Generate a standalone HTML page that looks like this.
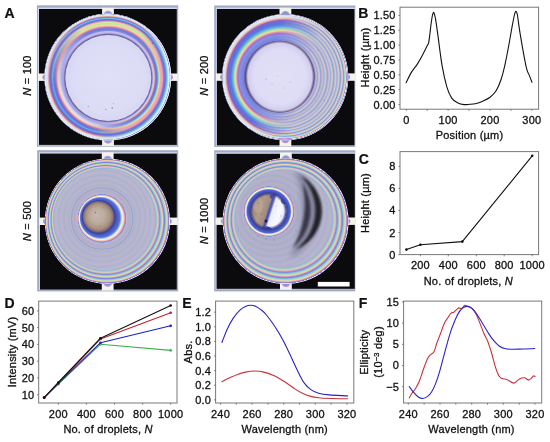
<!DOCTYPE html>
<html><head><meta charset="utf-8"><title>Figure</title>
<style>
html,body{margin:0;padding:0;background:#fff;}
body{width:550px;height:442px;overflow:hidden;}
svg{display:block;}
text{font-family:"Liberation Sans",sans-serif;fill:#111;stroke:#111;stroke-width:0.3px;letter-spacing:0.2px;}
.t{font-size:11px;}
.lab{font-size:11px;}
.pl{font-size:14px;font-weight:bold;stroke-width:0.2px;letter-spacing:0;}
.ax{fill:none;stroke:#787878;stroke-width:1;}
.tk{stroke:#666;stroke-width:0.8;fill:none;}
.ln{fill:none;stroke-width:1.1;stroke-linejoin:round;stroke-linecap:round;}
</style></head><body>
<svg width="550" height="442" viewBox="0 0 550 442">
<defs>
<radialGradient id="dome"><stop offset="0" stop-color="#6a8ae4"/><stop offset="0.55" stop-color="#7a9aea"/><stop offset="0.75" stop-color="#b79ad8"/><stop offset="0.9" stop-color="#f0c8b8"/><stop offset="1" stop-color="#f4f2ea"/></radialGradient>
<radialGradient id="g1L" gradientUnits="userSpaceOnUse" cx="107.7" cy="77.2" r="63.4" fx="108.3" fy="77.9" fr="43.3"><stop offset="0.0000" stop-color="#665c80"/><stop offset="0.0300" stop-color="#8078b0"/><stop offset="0.0700" stop-color="#9c9ce0"/><stop offset="0.1600" stop-color="#a8a8ec"/><stop offset="0.2200" stop-color="#d4d0f2"/><stop offset="0.2900" stop-color="#e4def4"/><stop offset="0.3300" stop-color="#f0e0b0"/><stop offset="0.3800" stop-color="#f0b09c"/><stop offset="0.4300" stop-color="#b070c4"/><stop offset="0.4800" stop-color="#8868cc"/><stop offset="0.5400" stop-color="#5c78e0"/><stop offset="0.6000" stop-color="#62b4dc"/><stop offset="0.6400" stop-color="#5c90e0"/><stop offset="0.6900" stop-color="#6070dc"/><stop offset="0.7300" stop-color="#9060c4"/><stop offset="0.7800" stop-color="#d888b0"/><stop offset="0.8200" stop-color="#f0c0a0"/><stop offset="0.8600" stop-color="#e8e4e8"/><stop offset="0.9000" stop-color="#d8e6f8"/><stop offset="0.9400" stop-color="#d4e2f8"/><stop offset="0.9650" stop-color="#eef2fc"/><stop offset="0.9820" stop-color="#8a94cc"/><stop offset="1.0000" stop-color="#e8ecf6"/></radialGradient>
<radialGradient id="g1T" gradientUnits="userSpaceOnUse" cx="107.7" cy="77.2" r="63.4" fx="108.3" fy="77.9" fr="43.3"><stop offset="0.0000" stop-color="#66629c"/><stop offset="0.0350" stop-color="#807ec8"/><stop offset="0.0800" stop-color="#c0b8e4"/><stop offset="0.1500" stop-color="#c8b8e6"/><stop offset="0.2000" stop-color="#7c88e4"/><stop offset="0.2800" stop-color="#6c7ce0"/><stop offset="0.3300" stop-color="#a070c8"/><stop offset="0.4000" stop-color="#f0a4a0"/><stop offset="0.4500" stop-color="#f0e0a0"/><stop offset="0.5200" stop-color="#c0e4a0"/><stop offset="0.5900" stop-color="#dce49c"/><stop offset="0.6400" stop-color="#e8a0b0"/><stop offset="0.6800" stop-color="#a070c8"/><stop offset="0.7300" stop-color="#5c74e0"/><stop offset="0.7800" stop-color="#6cc8e0"/><stop offset="0.8200" stop-color="#7088e0"/><stop offset="0.8500" stop-color="#a870c8"/><stop offset="0.8800" stop-color="#f0b0a0"/><stop offset="0.9100" stop-color="#e8dce8"/><stop offset="0.9400" stop-color="#d4e2f8"/><stop offset="0.9650" stop-color="#eef2fc"/><stop offset="0.9820" stop-color="#8a94cc"/><stop offset="1.0000" stop-color="#e8ecf6"/></radialGradient>
<linearGradient id="m1g" gradientUnits="userSpaceOnUse" x1="66" y1="100" x2="110" y2="66"><stop offset="0" stop-color="#000"/><stop offset="1" stop-color="#fff"/></linearGradient>
<mask id="m1" maskUnits="userSpaceOnUse" x="37" y="6" width="142" height="142"><rect x="37" y="6" width="142" height="142" fill="url(#m1g)"/></mask>
<radialGradient id="g1R" gradientUnits="userSpaceOnUse" cx="107.7" cy="77.2" r="63.4" fx="108.3" fy="77.9" fr="43.3"><stop offset="0.0000" stop-color="#6a68b0"/><stop offset="0.0400" stop-color="#8a88d8"/><stop offset="0.0800" stop-color="#d0c8ec"/><stop offset="0.1400" stop-color="#f0c0a0"/><stop offset="0.1900" stop-color="#a070c8"/><stop offset="0.2700" stop-color="#6078e0"/><stop offset="0.3500" stop-color="#80d0c8"/><stop offset="0.3900" stop-color="#e8e4a0"/><stop offset="0.4500" stop-color="#f0b0a8"/><stop offset="0.5600" stop-color="#eca0b0"/><stop offset="0.6200" stop-color="#a070c8"/><stop offset="0.7000" stop-color="#5c74e0"/><stop offset="0.7900" stop-color="#6cc8e0"/><stop offset="0.8600" stop-color="#d8e8f4"/><stop offset="0.9100" stop-color="#e8eefa"/><stop offset="0.9450" stop-color="#8a94cc"/><stop offset="0.9750" stop-color="#e8ecf6"/><stop offset="1.0000" stop-color="#e8ecf6"/></radialGradient>
<linearGradient id="m1rg" gradientUnits="userSpaceOnUse" x1="128" y1="60" x2="158" y2="74"><stop offset="0" stop-color="#000"/><stop offset="1" stop-color="#fff"/></linearGradient>
<mask id="m1r" maskUnits="userSpaceOnUse" x="37" y="6" width="142" height="142"><rect x="37" y="6" width="142" height="142" fill="url(#m1rg)"/></mask>
<radialGradient id="g1i" gradientUnits="userSpaceOnUse" cx="108.3" cy="77.9" r="43.5"><stop offset="0.0000" stop-color="#e0e0f8"/><stop offset="0.8000" stop-color="#dcdcf6"/><stop offset="1.0000" stop-color="#d6d6f2"/></radialGradient>
<radialGradient id="g2L" gradientUnits="userSpaceOnUse" cx="285.1" cy="77.1" r="63.1" fx="279.6" fy="76.8" fr="34.2"><stop offset="0.0000" stop-color="#5c4c70"/><stop offset="0.0350" stop-color="#6a60a8"/><stop offset="0.0800" stop-color="#7482e0"/><stop offset="0.2600" stop-color="#8292e6"/><stop offset="0.3200" stop-color="#9a70c8"/><stop offset="0.3700" stop-color="#e890b0"/><stop offset="0.4200" stop-color="#f0dca0"/><stop offset="0.4800" stop-color="#a0dcb0"/><stop offset="0.5400" stop-color="#62b4dc"/><stop offset="0.6200" stop-color="#5c78e0"/><stop offset="0.7000" stop-color="#6070dc"/><stop offset="0.7800" stop-color="#9060c4"/><stop offset="0.8400" stop-color="#f0b8a0"/><stop offset="0.8900" stop-color="#e8e4e8"/><stop offset="0.9300" stop-color="#d8e6f8"/><stop offset="0.9450" stop-color="#d4e2f8"/><stop offset="0.9700" stop-color="#eef2fc"/><stop offset="0.9850" stop-color="#8a94cc"/><stop offset="1.0000" stop-color="#e8ecf6"/></radialGradient>
<radialGradient id="g2R" gradientUnits="userSpaceOnUse" cx="285.1" cy="77.1" r="63.1" fx="279.6" fy="76.8" fr="34.2"><stop offset="0.0000" stop-color="#5a4a6a"/><stop offset="0.0200" stop-color="#6a68b8"/><stop offset="0.0500" stop-color="#a0a0e0"/><stop offset="0.0700" stop-color="#c4bec2"/><stop offset="0.0759" stop-color="#c5b7c2"/><stop offset="0.0817" stop-color="#c6b1c3"/><stop offset="0.0876" stop-color="#c1abc8"/><stop offset="0.0935" stop-color="#baa4ce"/><stop offset="0.0993" stop-color="#b1a2d4"/><stop offset="0.1052" stop-color="#a9a3d8"/><stop offset="0.1111" stop-color="#a0a4dc"/><stop offset="0.1169" stop-color="#a1addd"/><stop offset="0.1228" stop-color="#a4b7de"/><stop offset="0.1287" stop-color="#a7c0df"/><stop offset="0.1345" stop-color="#aec4da"/><stop offset="0.1404" stop-color="#b5c8d5"/><stop offset="0.1463" stop-color="#bcccd1"/><stop offset="0.1521" stop-color="#c4ccd1"/><stop offset="0.1580" stop-color="#cacbcf"/><stop offset="0.1639" stop-color="#cfcace"/><stop offset="0.1697" stop-color="#cfc2cc"/><stop offset="0.1756" stop-color="#cebaca"/><stop offset="0.1815" stop-color="#c7b1cc"/><stop offset="0.1873" stop-color="#bea8d1"/><stop offset="0.1932" stop-color="#b3a2d5"/><stop offset="0.1991" stop-color="#a8a1d7"/><stop offset="0.2049" stop-color="#9da0d9"/><stop offset="0.2108" stop-color="#9ba6d8"/><stop offset="0.2167" stop-color="#9badd7"/><stop offset="0.2225" stop-color="#9cb4d6"/><stop offset="0.2284" stop-color="#a0b6d0"/><stop offset="0.2343" stop-color="#a6baca"/><stop offset="0.2401" stop-color="#adbec5"/><stop offset="0.2460" stop-color="#b6bfc6"/><stop offset="0.2519" stop-color="#bec0c6"/><stop offset="0.2577" stop-color="#c6c2c7"/><stop offset="0.2636" stop-color="#c9bdc7"/><stop offset="0.2695" stop-color="#cab7c8"/><stop offset="0.2753" stop-color="#c7b1cb"/><stop offset="0.2812" stop-color="#c0abd1"/><stop offset="0.2871" stop-color="#b8a6d7"/><stop offset="0.2929" stop-color="#b0a8db"/><stop offset="0.2988" stop-color="#a7a9df"/><stop offset="0.3047" stop-color="#a6b0e2"/><stop offset="0.3105" stop-color="#a8b9e3"/><stop offset="0.3164" stop-color="#abc3e4"/><stop offset="0.3223" stop-color="#b0c8df"/><stop offset="0.3281" stop-color="#b5c9d8"/><stop offset="0.3340" stop-color="#bacbd2"/><stop offset="0.3399" stop-color="#c0cacf"/><stop offset="0.3457" stop-color="#c6c9ce"/><stop offset="0.3516" stop-color="#ccc8cd"/><stop offset="0.3575" stop-color="#cec3cb"/><stop offset="0.3633" stop-color="#cdbaca"/><stop offset="0.3692" stop-color="#c8b2ca"/><stop offset="0.3751" stop-color="#bfa9cf"/><stop offset="0.3809" stop-color="#b5a1d3"/><stop offset="0.3868" stop-color="#aaa1d5"/><stop offset="0.3927" stop-color="#9fa0d7"/><stop offset="0.3985" stop-color="#9aa3d8"/><stop offset="0.4044" stop-color="#9aaad7"/><stop offset="0.4103" stop-color="#9bb2d6"/><stop offset="0.4161" stop-color="#a1b8d4"/><stop offset="0.4220" stop-color="#a8bccf"/><stop offset="0.4279" stop-color="#afc0ca"/><stop offset="0.4337" stop-color="#b7c2c9"/><stop offset="0.4396" stop-color="#bfc4c9"/><stop offset="0.4455" stop-color="#c7c5ca"/><stop offset="0.4513" stop-color="#ccc3ca"/><stop offset="0.4572" stop-color="#cdbdca"/><stop offset="0.4631" stop-color="#cdb7cc"/><stop offset="0.4689" stop-color="#c5b1d3"/><stop offset="0.4748" stop-color="#beaad9"/><stop offset="0.4807" stop-color="#b5acdd"/><stop offset="0.4865" stop-color="#acade1"/><stop offset="0.4924" stop-color="#a8b2e4"/><stop offset="0.4983" stop-color="#abbce5"/><stop offset="0.5041" stop-color="#acc4e5"/><stop offset="0.5100" stop-color="#aec8e1"/><stop offset="0.5159" stop-color="#b3cada"/><stop offset="0.5217" stop-color="#b8ccd3"/><stop offset="0.5276" stop-color="#becccf"/><stop offset="0.5335" stop-color="#c5cbcd"/><stop offset="0.5393" stop-color="#cccbcc"/><stop offset="0.5452" stop-color="#d0c7ca"/><stop offset="0.5511" stop-color="#cfbec8"/><stop offset="0.5569" stop-color="#cdb4c7"/><stop offset="0.5628" stop-color="#c3abcc"/><stop offset="0.5687" stop-color="#b8a1d1"/><stop offset="0.5745" stop-color="#ac9fd4"/><stop offset="0.5804" stop-color="#9f9ed7"/><stop offset="0.5863" stop-color="#969fd9"/><stop offset="0.5921" stop-color="#97a9d9"/><stop offset="0.5980" stop-color="#9ab4da"/><stop offset="0.6039" stop-color="#9ebdd8"/><stop offset="0.6097" stop-color="#a7c2d1"/><stop offset="0.6156" stop-color="#afc6cb"/><stop offset="0.6215" stop-color="#b8c9c7"/><stop offset="0.6273" stop-color="#c2cbc7"/><stop offset="0.6332" stop-color="#ccccc7"/><stop offset="0.6391" stop-color="#d4cbc7"/><stop offset="0.6449" stop-color="#d5c3c7"/><stop offset="0.6508" stop-color="#d7bac7"/><stop offset="0.6567" stop-color="#cdb1ce"/><stop offset="0.6625" stop-color="#c2a7d7"/><stop offset="0.6684" stop-color="#b6a5dc"/><stop offset="0.6743" stop-color="#a9a6e1"/><stop offset="0.6801" stop-color="#9da9e6"/><stop offset="0.6860" stop-color="#9eb3e5"/><stop offset="0.6919" stop-color="#a0bee4"/><stop offset="0.6977" stop-color="#a2c8e2"/><stop offset="0.7036" stop-color="#aacbd8"/><stop offset="0.7095" stop-color="#b2cecf"/><stop offset="0.7153" stop-color="#bad0c8"/><stop offset="0.7212" stop-color="#c4d0c6"/><stop offset="0.7271" stop-color="#cecfc5"/><stop offset="0.7329" stop-color="#d7cec3"/><stop offset="0.7388" stop-color="#d6c2c1"/><stop offset="0.7447" stop-color="#d6b6bf"/><stop offset="0.7505" stop-color="#caa9c5"/><stop offset="0.7564" stop-color="#bc9dcd"/><stop offset="0.7623" stop-color="#ad97d3"/><stop offset="0.7681" stop-color="#9c96d7"/><stop offset="0.7740" stop-color="#8c97dc"/><stop offset="0.7799" stop-color="#8fa5dd"/><stop offset="0.7857" stop-color="#92b3de"/><stop offset="0.7916" stop-color="#96c1dd"/><stop offset="0.7975" stop-color="#a0c7d4"/><stop offset="0.8033" stop-color="#abcccb"/><stop offset="0.8092" stop-color="#b6d1c2"/><stop offset="0.8151" stop-color="#c3d2c2"/><stop offset="0.8209" stop-color="#d0d4c1"/><stop offset="0.8268" stop-color="#ddd5c0"/><stop offset="0.8327" stop-color="#dfc9bf"/><stop offset="0.8385" stop-color="#e0bbbd"/><stop offset="0.8444" stop-color="#d5adc4"/><stop offset="0.8503" stop-color="#c69fcf"/><stop offset="0.8561" stop-color="#b497d8"/><stop offset="0.8620" stop-color="#a097de"/><stop offset="0.8679" stop-color="#8a96e4"/><stop offset="0.8737" stop-color="#89a5e4"/><stop offset="0.8796" stop-color="#8cb6e4"/><stop offset="0.8855" stop-color="#8ec7e3"/><stop offset="0.8913" stop-color="#99cdd6"/><stop offset="0.8972" stop-color="#a6d3c9"/><stop offset="0.9031" stop-color="#b3d9bb"/><stop offset="0.9089" stop-color="#c2d9ba"/><stop offset="0.9148" stop-color="#d2d9b8"/><stop offset="0.9207" stop-color="#e3dab6"/><stop offset="0.9265" stop-color="#e5cbb4"/><stop offset="0.9324" stop-color="#e6b9b1"/><stop offset="0.9383" stop-color="#daa7b7"/><stop offset="0.9441" stop-color="#c594c4"/><stop offset="0.9500" stop-color="#ae87cf"/><stop offset="0.9650" stop-color="#eef2fc"/><stop offset="0.9850" stop-color="#8a94cc"/><stop offset="1.0000" stop-color="#e8ecf6"/></radialGradient>
<linearGradient id="m2g" gradientUnits="userSpaceOnUse" x1="266" y1="70" x2="306" y2="82"><stop offset="0" stop-color="#000"/><stop offset="1" stop-color="#fff"/></linearGradient>
<mask id="m2" maskUnits="userSpaceOnUse" x="214" y="6" width="142" height="142"><rect x="214" y="6" width="142" height="142" fill="url(#m2g)"/></mask>
<radialGradient id="g2i"><stop offset="0" stop-color="#e2e0f6"/><stop offset="0.75" stop-color="#dedcf6"/><stop offset="0.93" stop-color="#d2cfee"/><stop offset="0.975" stop-color="#8c7c9c"/><stop offset="1" stop-color="#5c4c70"/></radialGradient>
<radialGradient id="g3" gradientUnits="userSpaceOnUse" cx="102" cy="218.5" r="72"><stop offset="0.0000" stop-color="#b1b0c6"/><stop offset="0.0059" stop-color="#b1aec6"/><stop offset="0.0118" stop-color="#b1acc6"/><stop offset="0.0176" stop-color="#afabc8"/><stop offset="0.0235" stop-color="#adaac9"/><stop offset="0.0294" stop-color="#abaac9"/><stop offset="0.0353" stop-color="#abacca"/><stop offset="0.0412" stop-color="#abaeca"/><stop offset="0.0471" stop-color="#acafc9"/><stop offset="0.0529" stop-color="#adb0c8"/><stop offset="0.0588" stop-color="#afb0c7"/><stop offset="0.0647" stop-color="#b0b0c7"/><stop offset="0.0706" stop-color="#b2b1c7"/><stop offset="0.0765" stop-color="#b2afc7"/><stop offset="0.0824" stop-color="#b2aec7"/><stop offset="0.0882" stop-color="#b0acc8"/><stop offset="0.0941" stop-color="#aeabc9"/><stop offset="0.1000" stop-color="#acabca"/><stop offset="0.1059" stop-color="#abacca"/><stop offset="0.1118" stop-color="#acaeca"/><stop offset="0.1176" stop-color="#acb0ca"/><stop offset="0.1235" stop-color="#aeb1c9"/><stop offset="0.1294" stop-color="#afb1c7"/><stop offset="0.1353" stop-color="#b1b1c7"/><stop offset="0.1412" stop-color="#b3b1c7"/><stop offset="0.1471" stop-color="#b3b0c7"/><stop offset="0.1529" stop-color="#b3afc7"/><stop offset="0.1588" stop-color="#b1adc8"/><stop offset="0.1647" stop-color="#afacca"/><stop offset="0.1706" stop-color="#adacca"/><stop offset="0.1765" stop-color="#acadcb"/><stop offset="0.1824" stop-color="#acafcb"/><stop offset="0.1882" stop-color="#adb1cb"/><stop offset="0.1941" stop-color="#aeb1c9"/><stop offset="0.2000" stop-color="#b0b2c8"/><stop offset="0.2059" stop-color="#b2b2c8"/><stop offset="0.2118" stop-color="#b3b2c8"/><stop offset="0.2176" stop-color="#b4b1c8"/><stop offset="0.2235" stop-color="#b4b0c8"/><stop offset="0.2294" stop-color="#b3aec9"/><stop offset="0.2353" stop-color="#b1adca"/><stop offset="0.2412" stop-color="#aeadcb"/><stop offset="0.2471" stop-color="#adadcc"/><stop offset="0.2529" stop-color="#adafcc"/><stop offset="0.2588" stop-color="#adb1cc"/><stop offset="0.2647" stop-color="#afb2ca"/><stop offset="0.2706" stop-color="#b1b3c9"/><stop offset="0.2765" stop-color="#b2b3c9"/><stop offset="0.2824" stop-color="#b4b3c9"/><stop offset="0.2882" stop-color="#b5b3c9"/><stop offset="0.2941" stop-color="#b5b1c8"/><stop offset="0.3000" stop-color="#b4afc9"/><stop offset="0.3059" stop-color="#b2adcb"/><stop offset="0.3118" stop-color="#afadcc"/><stop offset="0.3176" stop-color="#adaecc"/><stop offset="0.3235" stop-color="#aeb0cc"/><stop offset="0.3294" stop-color="#aeb2cc"/><stop offset="0.3353" stop-color="#b0b3cb"/><stop offset="0.3412" stop-color="#b1b4ca"/><stop offset="0.3471" stop-color="#b3b4c9"/><stop offset="0.3529" stop-color="#b5b4c9"/><stop offset="0.3588" stop-color="#b6b4c9"/><stop offset="0.3647" stop-color="#b6b2c9"/><stop offset="0.3706" stop-color="#b5b0ca"/><stop offset="0.3765" stop-color="#b3aecb"/><stop offset="0.3824" stop-color="#b0aecc"/><stop offset="0.3882" stop-color="#aeaecd"/><stop offset="0.3941" stop-color="#aeb0cd"/><stop offset="0.4000" stop-color="#afb3cd"/><stop offset="0.4059" stop-color="#b0b4cc"/><stop offset="0.4118" stop-color="#b2b5cb"/><stop offset="0.4176" stop-color="#b3b5ca"/><stop offset="0.4235" stop-color="#b5b5ca"/><stop offset="0.4294" stop-color="#b7b5ca"/><stop offset="0.4353" stop-color="#b7b3ca"/><stop offset="0.4412" stop-color="#b6b1ca"/><stop offset="0.4471" stop-color="#b4afcc"/><stop offset="0.4529" stop-color="#b2afcd"/><stop offset="0.4588" stop-color="#afafce"/><stop offset="0.4647" stop-color="#afb1ce"/><stop offset="0.4706" stop-color="#afb3ce"/><stop offset="0.4765" stop-color="#b1b4cd"/><stop offset="0.4824" stop-color="#b2b5cc"/><stop offset="0.4882" stop-color="#b4b6cb"/><stop offset="0.4941" stop-color="#b6b6cb"/><stop offset="0.5000" stop-color="#b8b6cb"/><stop offset="0.5059" stop-color="#b8b4cb"/><stop offset="0.5118" stop-color="#b7b2cb"/><stop offset="0.5176" stop-color="#b5b0cd"/><stop offset="0.5235" stop-color="#b3b0ce"/><stop offset="0.5294" stop-color="#b0b0cf"/><stop offset="0.5353" stop-color="#afb1cf"/><stop offset="0.5412" stop-color="#b0b4cf"/><stop offset="0.5471" stop-color="#b1b5ce"/><stop offset="0.5529" stop-color="#b3b6cd"/><stop offset="0.5588" stop-color="#b4b7cc"/><stop offset="0.5647" stop-color="#b6b7cc"/><stop offset="0.5706" stop-color="#b8b7cc"/><stop offset="0.5765" stop-color="#b9b5cb"/><stop offset="0.5824" stop-color="#b9b3cc"/><stop offset="0.5882" stop-color="#b6b1cd"/><stop offset="0.5941" stop-color="#b4b0ce"/><stop offset="0.6000" stop-color="#b1b0cf"/><stop offset="0.6059" stop-color="#b0b2d0"/><stop offset="0.6118" stop-color="#b1b4d0"/><stop offset="0.6176" stop-color="#b1b6cf"/><stop offset="0.6235" stop-color="#b3b7ce"/><stop offset="0.6294" stop-color="#b5b7cc"/><stop offset="0.6353" stop-color="#b7b8cc"/><stop offset="0.6412" stop-color="#b9b8cc"/><stop offset="0.6471" stop-color="#bab6cc"/><stop offset="0.6529" stop-color="#bab4cc"/><stop offset="0.6588" stop-color="#b7b2ce"/><stop offset="0.6647" stop-color="#b5b1cf"/><stop offset="0.6706" stop-color="#b2b1d0"/><stop offset="0.6765" stop-color="#b1b2d1"/><stop offset="0.6824" stop-color="#b1b4d1"/><stop offset="0.6882" stop-color="#b2b7d1"/><stop offset="0.6941" stop-color="#b4b7cf"/><stop offset="0.7000" stop-color="#b5b8cd"/><stop offset="0.7059" stop-color="#b8b8cd"/><stop offset="0.7118" stop-color="#bab8cd"/><stop offset="0.7176" stop-color="#bbb7cd"/><stop offset="0.7235" stop-color="#bbb5cd"/><stop offset="0.7294" stop-color="#b9b3ce"/><stop offset="0.7353" stop-color="#b6b2d0"/><stop offset="0.7412" stop-color="#b3b2d1"/><stop offset="0.7471" stop-color="#b1b2d2"/><stop offset="0.7529" stop-color="#b2b5d2"/><stop offset="0.7588" stop-color="#b2b7d2"/><stop offset="0.7647" stop-color="#b4b8d0"/><stop offset="0.7706" stop-color="#b6b9ce"/><stop offset="0.7765" stop-color="#b8b9ce"/><stop offset="0.7824" stop-color="#bab9ce"/><stop offset="0.7882" stop-color="#bbb8ce"/><stop offset="0.7941" stop-color="#bbb6ce"/><stop offset="0.8000" stop-color="#bab4cf"/><stop offset="0.8059" stop-color="#b7b2d1"/><stop offset="0.8118" stop-color="#b4b2d2"/><stop offset="0.8176" stop-color="#b2b3d3"/><stop offset="0.8235" stop-color="#b2b5d3"/><stop offset="0.8294" stop-color="#b3b8d3"/><stop offset="0.8353" stop-color="#b5b9d1"/><stop offset="0.8412" stop-color="#b6bacf"/><stop offset="0.8471" stop-color="#b8bacf"/><stop offset="0.8529" stop-color="#bbbacf"/><stop offset="0.8588" stop-color="#bcbacf"/><stop offset="0.8647" stop-color="#bcb7cf"/><stop offset="0.8706" stop-color="#bbb5d0"/><stop offset="0.8765" stop-color="#b8b3d1"/><stop offset="0.8824" stop-color="#b6b3d2"/><stop offset="0.8882" stop-color="#b3b3d3"/><stop offset="0.8941" stop-color="#b3b6d3"/><stop offset="0.9000" stop-color="#b3b8d4"/><stop offset="0.9059" stop-color="#b5b9d2"/><stop offset="0.9118" stop-color="#b7bad1"/><stop offset="0.9176" stop-color="#b9bbd0"/><stop offset="0.9235" stop-color="#bbbbd0"/><stop offset="0.9294" stop-color="#bdbbd0"/><stop offset="0.9353" stop-color="#bdb9cf"/><stop offset="0.9412" stop-color="#bcb6d0"/><stop offset="0.9471" stop-color="#bab4d2"/><stop offset="0.9529" stop-color="#b7b4d3"/><stop offset="0.9588" stop-color="#b4b4d4"/><stop offset="0.9647" stop-color="#b4b6d4"/><stop offset="0.9706" stop-color="#b4b9d4"/><stop offset="0.9765" stop-color="#b5bad3"/><stop offset="0.9824" stop-color="#b7bbd2"/><stop offset="0.9882" stop-color="#b9bcd1"/><stop offset="0.9941" stop-color="#bcbcd1"/><stop offset="1.0000" stop-color="#bebcd0"/></radialGradient>
<radialGradient id="g3o" gradientUnits="userSpaceOnUse" cx="107.4" cy="221.3" r="62.5" fx="104.4" fy="219.3" fr="50"><stop offset="0.0000" stop-color="#c0c0dc" stop-opacity="0"/><stop offset="0.0200" stop-color="#b8b7d2" stop-opacity="0"/><stop offset="0.0317" stop-color="#b6b4d2" stop-opacity="0.146094"/><stop offset="0.0434" stop-color="#b2b0d3" stop-opacity="0.292187"/><stop offset="0.0551" stop-color="#acadd4" stop-opacity="0.438281"/><stop offset="0.0668" stop-color="#a6abd6" stop-opacity="0.584375"/><stop offset="0.0784" stop-color="#a2add7" stop-opacity="0.730469"/><stop offset="0.0901" stop-color="#9fb1d8" stop-opacity="0.876562"/><stop offset="0.1018" stop-color="#9bb6d8"/><stop offset="0.1135" stop-color="#99bdd9"/><stop offset="0.1252" stop-color="#9bc1d5"/><stop offset="0.1369" stop-color="#a1c4cf"/><stop offset="0.1486" stop-color="#a6c7c9"/><stop offset="0.1602" stop-color="#accac2"/><stop offset="0.1719" stop-color="#b3cdbe"/><stop offset="0.1836" stop-color="#bacdbd"/><stop offset="0.1953" stop-color="#c2cebc"/><stop offset="0.2070" stop-color="#cacfbb"/><stop offset="0.2187" stop-color="#d2cfba"/><stop offset="0.2304" stop-color="#d9ceb9"/><stop offset="0.2421" stop-color="#dac6b8"/><stop offset="0.2537" stop-color="#dbbdb6"/><stop offset="0.2654" stop-color="#dbb4b5"/><stop offset="0.2771" stop-color="#d5abb9"/><stop offset="0.2888" stop-color="#caa1bf"/><stop offset="0.3005" stop-color="#c097c6"/><stop offset="0.3122" stop-color="#b48ecd"/><stop offset="0.3239" stop-color="#a78ed1"/><stop offset="0.3356" stop-color="#998dd5"/><stop offset="0.3473" stop-color="#8b8dd9"/><stop offset="0.3589" stop-color="#7d8ddd"/><stop offset="0.3706" stop-color="#7e98de"/><stop offset="0.3823" stop-color="#80a4de"/><stop offset="0.3940" stop-color="#81b0de"/><stop offset="0.4057" stop-color="#83bdde"/><stop offset="0.4174" stop-color="#88c5da"/><stop offset="0.4291" stop-color="#91c9d1"/><stop offset="0.4407" stop-color="#9acec8"/><stop offset="0.4524" stop-color="#a3d2bf"/><stop offset="0.4641" stop-color="#acd6b5"/><stop offset="0.4758" stop-color="#b7d7b4"/><stop offset="0.4875" stop-color="#c2d7b3"/><stop offset="0.4992" stop-color="#cdd8b3"/><stop offset="0.5109" stop-color="#d8d8b2"/><stop offset="0.5226" stop-color="#e3d9b1"/><stop offset="0.5343" stop-color="#e5cfb0"/><stop offset="0.5459" stop-color="#e5c4ae"/><stop offset="0.5576" stop-color="#e6b8ad"/><stop offset="0.5693" stop-color="#e2acae"/><stop offset="0.5810" stop-color="#d5a0b7"/><stop offset="0.5927" stop-color="#c794c0"/><stop offset="0.6044" stop-color="#b988c9"/><stop offset="0.6161" stop-color="#aa84cf"/><stop offset="0.6278" stop-color="#9984d4"/><stop offset="0.6394" stop-color="#8985d9"/><stop offset="0.6511" stop-color="#7885de"/><stop offset="0.6628" stop-color="#748ee0"/><stop offset="0.6745" stop-color="#769ce0"/><stop offset="0.6862" stop-color="#78aae0"/><stop offset="0.6979" stop-color="#7bb8e0"/><stop offset="0.7096" stop-color="#7ec5df"/><stop offset="0.7212" stop-color="#88cad5"/><stop offset="0.7329" stop-color="#92cfcb"/><stop offset="0.7446" stop-color="#9cd3c0"/><stop offset="0.7563" stop-color="#a6d8b6"/><stop offset="0.7680" stop-color="#b1dbb0"/><stop offset="0.7797" stop-color="#bedbaf"/><stop offset="0.7914" stop-color="#cadcae"/><stop offset="0.8031" stop-color="#d7dcae"/><stop offset="0.8147" stop-color="#e3ddad"/><stop offset="0.8264" stop-color="#ead7ac"/><stop offset="0.8381" stop-color="#ebcaaa"/><stop offset="0.8498" stop-color="#ebbda8"/><stop offset="0.8615" stop-color="#ebb0a7"/><stop offset="0.8732" stop-color="#dea2af"/><stop offset="0.8849" stop-color="#cf94b9"/><stop offset="0.8966" stop-color="#bf87c3"/><stop offset="0.9083" stop-color="#af7dcc"/><stop offset="0.9199" stop-color="#9c7dd1"/><stop offset="0.9316" stop-color="#8a7ed7"/><stop offset="0.9433" stop-color="#777edc"/><stop offset="0.9550" stop-color="#6982e0"/><stop offset="0.9620" stop-color="#dfe6f8"/><stop offset="0.9760" stop-color="#f2f4fc"/><stop offset="0.9880" stop-color="#9aa2d0"/><stop offset="1.0000" stop-color="#e8ecf6"/></radialGradient>
<radialGradient id="g3b" gradientUnits="userSpaceOnUse" cx="102.2" cy="218.5" r="24.8" fx="98.6" fy="217" fr="16"><stop offset="0.0000" stop-color="#38388c"/><stop offset="0.1000" stop-color="#4050b8"/><stop offset="0.4200" stop-color="#5872dc"/><stop offset="0.5400" stop-color="#a6c6f4"/><stop offset="0.6200" stop-color="#f6f6f2"/><stop offset="0.7100" stop-color="#f4e2ac"/><stop offset="0.7900" stop-color="#f0b0aa"/><stop offset="0.8600" stop-color="#ae80cc"/><stop offset="0.9200" stop-color="#8094e0"/><stop offset="0.9600" stop-color="#b0bce2"/><stop offset="1.0000" stop-color="#bcbbd4" stop-opacity="0"/></radialGradient>
<radialGradient id="g3c" gradientUnits="userSpaceOnUse" cx="98.6" cy="217" r="16.6" fx="96.5" fy="214.5" fr="0"><stop offset="0.0000" stop-color="#c6b8ac"/><stop offset="0.4500" stop-color="#bcac9e"/><stop offset="0.7500" stop-color="#a8927f"/><stop offset="0.8800" stop-color="#8a7078"/><stop offset="0.9600" stop-color="#544c8c"/><stop offset="1.0000" stop-color="#38388c"/></radialGradient>
<radialGradient id="g4" gradientUnits="userSpaceOnUse" cx="272" cy="213" r="82"><stop offset="0.0000" stop-color="#acaac0"/><stop offset="0.0059" stop-color="#aca8c0"/><stop offset="0.0118" stop-color="#aba7c1"/><stop offset="0.0176" stop-color="#aaa5c2"/><stop offset="0.0235" stop-color="#a8a5c3"/><stop offset="0.0294" stop-color="#a5a5c4"/><stop offset="0.0353" stop-color="#a5a6c4"/><stop offset="0.0412" stop-color="#a6a8c4"/><stop offset="0.0471" stop-color="#a6aac4"/><stop offset="0.0529" stop-color="#a8aac3"/><stop offset="0.0588" stop-color="#a9abc2"/><stop offset="0.0647" stop-color="#ababc2"/><stop offset="0.0706" stop-color="#adabc2"/><stop offset="0.0765" stop-color="#adaac2"/><stop offset="0.0824" stop-color="#ada8c2"/><stop offset="0.0882" stop-color="#aba7c3"/><stop offset="0.0941" stop-color="#a9a6c4"/><stop offset="0.1000" stop-color="#a7a6c5"/><stop offset="0.1059" stop-color="#a6a7c6"/><stop offset="0.1118" stop-color="#a7a9c6"/><stop offset="0.1176" stop-color="#a8abc5"/><stop offset="0.1235" stop-color="#a9acc4"/><stop offset="0.1294" stop-color="#abacc3"/><stop offset="0.1353" stop-color="#acadc3"/><stop offset="0.1412" stop-color="#aeadc3"/><stop offset="0.1471" stop-color="#afacc3"/><stop offset="0.1529" stop-color="#afaac3"/><stop offset="0.1588" stop-color="#ada8c4"/><stop offset="0.1647" stop-color="#aba7c6"/><stop offset="0.1706" stop-color="#a9a7c6"/><stop offset="0.1765" stop-color="#a7a8c7"/><stop offset="0.1824" stop-color="#a8aac7"/><stop offset="0.1882" stop-color="#a9acc7"/><stop offset="0.1941" stop-color="#aaadc6"/><stop offset="0.2000" stop-color="#acaec4"/><stop offset="0.2059" stop-color="#adaec4"/><stop offset="0.2118" stop-color="#afaec4"/><stop offset="0.2176" stop-color="#b0adc4"/><stop offset="0.2235" stop-color="#b0acc4"/><stop offset="0.2294" stop-color="#afaac5"/><stop offset="0.2353" stop-color="#ada9c7"/><stop offset="0.2412" stop-color="#aaa9c8"/><stop offset="0.2471" stop-color="#a9a9c8"/><stop offset="0.2529" stop-color="#a9acc8"/><stop offset="0.2588" stop-color="#aaaec8"/><stop offset="0.2647" stop-color="#abaec7"/><stop offset="0.2706" stop-color="#adafc6"/><stop offset="0.2765" stop-color="#afafc6"/><stop offset="0.2824" stop-color="#b0b0c6"/><stop offset="0.2882" stop-color="#b2afc6"/><stop offset="0.2941" stop-color="#b2adc5"/><stop offset="0.3000" stop-color="#b0abc7"/><stop offset="0.3059" stop-color="#aeaac8"/><stop offset="0.3118" stop-color="#acaac9"/><stop offset="0.3176" stop-color="#aaaaca"/><stop offset="0.3235" stop-color="#aaadca"/><stop offset="0.3294" stop-color="#abafca"/><stop offset="0.3353" stop-color="#acb0c9"/><stop offset="0.3412" stop-color="#aeb0c7"/><stop offset="0.3471" stop-color="#b0b1c7"/><stop offset="0.3529" stop-color="#b2b1c7"/><stop offset="0.3588" stop-color="#b3b1c7"/><stop offset="0.3647" stop-color="#b3afc7"/><stop offset="0.3706" stop-color="#b2adc8"/><stop offset="0.3765" stop-color="#b0abc9"/><stop offset="0.3824" stop-color="#aeabca"/><stop offset="0.3882" stop-color="#ababcb"/><stop offset="0.3941" stop-color="#abaecb"/><stop offset="0.4000" stop-color="#acb0cb"/><stop offset="0.4059" stop-color="#adb1ca"/><stop offset="0.4118" stop-color="#afb2c9"/><stop offset="0.4176" stop-color="#b1b2c8"/><stop offset="0.4235" stop-color="#b3b2c8"/><stop offset="0.4294" stop-color="#b4b2c8"/><stop offset="0.4353" stop-color="#b4b0c8"/><stop offset="0.4412" stop-color="#b3aec8"/><stop offset="0.4471" stop-color="#b1acca"/><stop offset="0.4529" stop-color="#afaccb"/><stop offset="0.4588" stop-color="#acaccc"/><stop offset="0.4647" stop-color="#acaecc"/><stop offset="0.4706" stop-color="#adb0cc"/><stop offset="0.4765" stop-color="#aeb2cb"/><stop offset="0.4824" stop-color="#b0b3ca"/><stop offset="0.4882" stop-color="#b1b3c9"/><stop offset="0.4941" stop-color="#b3b3c9"/><stop offset="0.5000" stop-color="#b5b3c9"/><stop offset="0.5059" stop-color="#b5b1c9"/><stop offset="0.5118" stop-color="#b5b0c9"/><stop offset="0.5176" stop-color="#b3aecb"/><stop offset="0.5235" stop-color="#b0adcc"/><stop offset="0.5294" stop-color="#adadcd"/><stop offset="0.5353" stop-color="#adafcd"/><stop offset="0.5412" stop-color="#adb1cd"/><stop offset="0.5471" stop-color="#aeb3cc"/><stop offset="0.5529" stop-color="#b0b3cb"/><stop offset="0.5588" stop-color="#b2b4ca"/><stop offset="0.5647" stop-color="#b4b4ca"/><stop offset="0.5706" stop-color="#b6b4ca"/><stop offset="0.5765" stop-color="#b6b3ca"/><stop offset="0.5824" stop-color="#b6b1ca"/><stop offset="0.5882" stop-color="#b4afcb"/><stop offset="0.5941" stop-color="#b1aecd"/><stop offset="0.6000" stop-color="#afaecd"/><stop offset="0.6059" stop-color="#aeafce"/><stop offset="0.6118" stop-color="#aeb2ce"/><stop offset="0.6176" stop-color="#afb3ce"/><stop offset="0.6235" stop-color="#b1b4cc"/><stop offset="0.6294" stop-color="#b3b5cb"/><stop offset="0.6353" stop-color="#b5b5cb"/><stop offset="0.6412" stop-color="#b7b5cb"/><stop offset="0.6471" stop-color="#b7b4ca"/><stop offset="0.6529" stop-color="#b7b2ca"/><stop offset="0.6588" stop-color="#b5b0cc"/><stop offset="0.6647" stop-color="#b3aecd"/><stop offset="0.6706" stop-color="#b0afce"/><stop offset="0.6765" stop-color="#aeb0cf"/><stop offset="0.6824" stop-color="#afb2cf"/><stop offset="0.6882" stop-color="#b0b4cf"/><stop offset="0.6941" stop-color="#b1b5cd"/><stop offset="0.7000" stop-color="#b3b6cb"/><stop offset="0.7059" stop-color="#b5b6cb"/><stop offset="0.7118" stop-color="#b7b6cb"/><stop offset="0.7176" stop-color="#b8b5cb"/><stop offset="0.7235" stop-color="#b8b3cb"/><stop offset="0.7294" stop-color="#b6b1cd"/><stop offset="0.7353" stop-color="#b4afce"/><stop offset="0.7412" stop-color="#b1afcf"/><stop offset="0.7471" stop-color="#afb0d0"/><stop offset="0.7529" stop-color="#b0b3d0"/><stop offset="0.7588" stop-color="#b0b5d0"/><stop offset="0.7647" stop-color="#b2b6ce"/><stop offset="0.7706" stop-color="#b4b7cd"/><stop offset="0.7765" stop-color="#b6b7cc"/><stop offset="0.7824" stop-color="#b8b7cc"/><stop offset="0.7882" stop-color="#b9b6cc"/><stop offset="0.7941" stop-color="#b9b4cc"/><stop offset="0.8000" stop-color="#b8b2cd"/><stop offset="0.8059" stop-color="#b5b0cf"/><stop offset="0.8118" stop-color="#b2b0d0"/><stop offset="0.8176" stop-color="#b0b0d1"/><stop offset="0.8235" stop-color="#b0b3d1"/><stop offset="0.8294" stop-color="#b1b6d1"/><stop offset="0.8353" stop-color="#b2b7cf"/><stop offset="0.8412" stop-color="#b4b8ce"/><stop offset="0.8471" stop-color="#b6b8cd"/><stop offset="0.8529" stop-color="#b9b8cd"/><stop offset="0.8588" stop-color="#bab8cd"/><stop offset="0.8647" stop-color="#bab5cd"/><stop offset="0.8706" stop-color="#b9b3ce"/><stop offset="0.8765" stop-color="#b6b1cf"/><stop offset="0.8824" stop-color="#b3b1d1"/><stop offset="0.8882" stop-color="#b1b1d2"/><stop offset="0.8941" stop-color="#b1b4d2"/><stop offset="0.9000" stop-color="#b1b6d2"/><stop offset="0.9059" stop-color="#b3b7d0"/><stop offset="0.9118" stop-color="#b5b8cf"/><stop offset="0.9176" stop-color="#b7b9ce"/><stop offset="0.9235" stop-color="#b9b9ce"/><stop offset="0.9294" stop-color="#bbb9ce"/><stop offset="0.9353" stop-color="#bbb7ce"/><stop offset="0.9412" stop-color="#bab4ce"/><stop offset="0.9471" stop-color="#b8b2d0"/><stop offset="0.9529" stop-color="#b5b2d1"/><stop offset="0.9588" stop-color="#b2b2d2"/><stop offset="0.9647" stop-color="#b2b4d3"/><stop offset="0.9706" stop-color="#b2b7d3"/><stop offset="0.9765" stop-color="#b4b8d2"/><stop offset="0.9824" stop-color="#b5b9d0"/><stop offset="0.9882" stop-color="#b8bacf"/><stop offset="0.9941" stop-color="#babacf"/><stop offset="1.0000" stop-color="#bcbacf"/></radialGradient>
<radialGradient id="g4o" gradientUnits="userSpaceOnUse" cx="285.6" cy="221.2" r="62.9" fx="283.5" fy="218.5" fr="47.5"><stop offset="0.0000" stop-color="#c0c0dc" stop-opacity="0"/><stop offset="0.0200" stop-color="#b8b7d2" stop-opacity="0"/><stop offset="0.0317" stop-color="#b6b4d2" stop-opacity="0.146094"/><stop offset="0.0434" stop-color="#b2b0d3" stop-opacity="0.292187"/><stop offset="0.0551" stop-color="#acadd4" stop-opacity="0.438281"/><stop offset="0.0668" stop-color="#a6abd6" stop-opacity="0.584375"/><stop offset="0.0784" stop-color="#a2add7" stop-opacity="0.730469"/><stop offset="0.0901" stop-color="#9fb1d8" stop-opacity="0.876562"/><stop offset="0.1018" stop-color="#9bb6d8"/><stop offset="0.1135" stop-color="#99bdd9"/><stop offset="0.1252" stop-color="#9bc1d5"/><stop offset="0.1369" stop-color="#a1c4cf"/><stop offset="0.1486" stop-color="#a6c7c9"/><stop offset="0.1602" stop-color="#accac2"/><stop offset="0.1719" stop-color="#b3cdbe"/><stop offset="0.1836" stop-color="#bacdbd"/><stop offset="0.1953" stop-color="#c2cebc"/><stop offset="0.2070" stop-color="#cacfbb"/><stop offset="0.2187" stop-color="#d2cfba"/><stop offset="0.2304" stop-color="#d9ceb9"/><stop offset="0.2421" stop-color="#dac6b8"/><stop offset="0.2537" stop-color="#dbbdb6"/><stop offset="0.2654" stop-color="#dbb4b5"/><stop offset="0.2771" stop-color="#d5abb9"/><stop offset="0.2888" stop-color="#caa1bf"/><stop offset="0.3005" stop-color="#c097c6"/><stop offset="0.3122" stop-color="#b48ecd"/><stop offset="0.3239" stop-color="#a78ed1"/><stop offset="0.3356" stop-color="#998dd5"/><stop offset="0.3473" stop-color="#8b8dd9"/><stop offset="0.3589" stop-color="#7d8ddd"/><stop offset="0.3706" stop-color="#7e98de"/><stop offset="0.3823" stop-color="#80a4de"/><stop offset="0.3940" stop-color="#81b0de"/><stop offset="0.4057" stop-color="#83bdde"/><stop offset="0.4174" stop-color="#88c5da"/><stop offset="0.4291" stop-color="#91c9d1"/><stop offset="0.4407" stop-color="#9acec8"/><stop offset="0.4524" stop-color="#a3d2bf"/><stop offset="0.4641" stop-color="#acd6b5"/><stop offset="0.4758" stop-color="#b7d7b4"/><stop offset="0.4875" stop-color="#c2d7b3"/><stop offset="0.4992" stop-color="#cdd8b3"/><stop offset="0.5109" stop-color="#d8d8b2"/><stop offset="0.5226" stop-color="#e3d9b1"/><stop offset="0.5343" stop-color="#e5cfb0"/><stop offset="0.5459" stop-color="#e5c4ae"/><stop offset="0.5576" stop-color="#e6b8ad"/><stop offset="0.5693" stop-color="#e2acae"/><stop offset="0.5810" stop-color="#d5a0b7"/><stop offset="0.5927" stop-color="#c794c0"/><stop offset="0.6044" stop-color="#b988c9"/><stop offset="0.6161" stop-color="#aa84cf"/><stop offset="0.6278" stop-color="#9984d4"/><stop offset="0.6394" stop-color="#8985d9"/><stop offset="0.6511" stop-color="#7885de"/><stop offset="0.6628" stop-color="#748ee0"/><stop offset="0.6745" stop-color="#769ce0"/><stop offset="0.6862" stop-color="#78aae0"/><stop offset="0.6979" stop-color="#7bb8e0"/><stop offset="0.7096" stop-color="#7ec5df"/><stop offset="0.7212" stop-color="#88cad5"/><stop offset="0.7329" stop-color="#92cfcb"/><stop offset="0.7446" stop-color="#9cd3c0"/><stop offset="0.7563" stop-color="#a6d8b6"/><stop offset="0.7680" stop-color="#b1dbb0"/><stop offset="0.7797" stop-color="#bedbaf"/><stop offset="0.7914" stop-color="#cadcae"/><stop offset="0.8031" stop-color="#d7dcae"/><stop offset="0.8147" stop-color="#e3ddad"/><stop offset="0.8264" stop-color="#ead7ac"/><stop offset="0.8381" stop-color="#ebcaaa"/><stop offset="0.8498" stop-color="#ebbda8"/><stop offset="0.8615" stop-color="#ebb0a7"/><stop offset="0.8732" stop-color="#dea2af"/><stop offset="0.8849" stop-color="#cf94b9"/><stop offset="0.8966" stop-color="#bf87c3"/><stop offset="0.9083" stop-color="#af7dcc"/><stop offset="0.9199" stop-color="#9c7dd1"/><stop offset="0.9316" stop-color="#8a7ed7"/><stop offset="0.9433" stop-color="#777edc"/><stop offset="0.9550" stop-color="#6982e0"/><stop offset="0.9620" stop-color="#dfe6f8"/><stop offset="0.9760" stop-color="#f2f4fc"/><stop offset="0.9880" stop-color="#9aa2d0"/><stop offset="1.0000" stop-color="#e8ecf6"/></radialGradient>
<clipPath id="c4"><circle cx="285.6" cy="221.2" r="60.9"/></clipPath><filter id="bl1" x="-30%" y="-20%" width="160%" height="140%"><feGaussianBlur stdDeviation="1.0"/></filter><filter id="bl2" x="-30%" y="-20%" width="160%" height="140%"><feGaussianBlur stdDeviation="2.5"/></filter>
<radialGradient id="g4b" gradientUnits="userSpaceOnUse" cx="269" cy="211.5" r="25.6" fx="268.4" fy="211.2" fr="17.6"><stop offset="0.0000" stop-color="#303084"/><stop offset="0.1500" stop-color="#3c46ac"/><stop offset="0.5000" stop-color="#5468d4"/><stop offset="0.6000" stop-color="#a6c6f4"/><stop offset="0.6700" stop-color="#f6f6f2"/><stop offset="0.7500" stop-color="#f4e2ac"/><stop offset="0.8200" stop-color="#f0b0aa"/><stop offset="0.8800" stop-color="#ae80cc"/><stop offset="0.9300" stop-color="#8094e0"/><stop offset="0.9700" stop-color="#b0bce2"/><stop offset="1.0000" stop-color="#b8b7d0" stop-opacity="0"/></radialGradient>
<linearGradient id="g4h" gradientUnits="userSpaceOnUse" x1="252" y1="206" x2="286" y2="217"><stop offset="0" stop-color="#9c8272"/><stop offset="0.25" stop-color="#b09a8a"/><stop offset="0.44" stop-color="#a48a7a"/><stop offset="0.49" stop-color="#4a50a8"/><stop offset="0.53" stop-color="#5a64c8"/><stop offset="0.58" stop-color="#eeeefa"/><stop offset="0.8" stop-color="#f8f8ff"/><stop offset="1" stop-color="#e4e4f8"/></linearGradient><radialGradient id="g4r" gradientUnits="userSpaceOnUse" cx="268.4" cy="211.2" r="18"><stop offset="0.0000" stop-color="#303084" stop-opacity="0"/><stop offset="0.8400" stop-color="#303084" stop-opacity="0"/><stop offset="0.9300" stop-color="#40408c" stop-opacity="0.5"/><stop offset="0.9800" stop-color="#303084" stop-opacity="0.9"/><stop offset="1.0000" stop-color="#303084"/></radialGradient>
<filter id="bl0" x="-10%" y="-10%" width="120%" height="120%"><feGaussianBlur stdDeviation="0.7"/></filter><clipPath id="c4b"><circle cx="268.4" cy="211.2" r="18.0"/></clipPath></defs>
<rect width="550" height="442" fill="#fff"/>
<rect x="36.9" y="5.3" width="141.3" height="141.4" fill="#a2aac2"/><rect x="38.0" y="7.6" width="139.1" height="137.8" fill="#d0d6ee"/><rect x="39.0" y="9.0" width="137.8" height="135.9" fill="#0b0a0c"/>
<rect x="102.1" y="7.8" width="11.8" height="8.0" fill="#f4f2ea"/><rect x="102.1" y="138.6" width="11.8" height="7.3" fill="#f4f2ea"/><rect x="38.0" y="73.5" width="8.3" height="7.4" fill="#f4f2ea"/><rect x="169.1" y="73.5" width="8.7" height="7.4" fill="#f4f2ea"/><ellipse cx="108.0" cy="14.8" rx="4.9" ry="4.6" fill="url(#dome)"/><ellipse cx="108.0" cy="139.6" rx="4.9" ry="4.6" fill="url(#dome)"/><ellipse cx="45.3" cy="77.2" rx="3.4" ry="3.3" fill="url(#dome)"/><ellipse cx="170.1" cy="77.2" rx="3.4" ry="3.3" fill="url(#dome)"/>
<rect x="214.2" y="5.5" width="141.1" height="141.4" fill="#a2aac2"/><rect x="215.9" y="7.6" width="138.9" height="138.3" fill="#d0d6ee"/><rect x="216.9" y="9.0" width="137.6" height="136.4" fill="#0b0a0c"/>
<rect x="279.5" y="7.8" width="11.8" height="8.2" fill="#f4f2ea"/><rect x="279.5" y="138.2" width="11.8" height="8.2" fill="#f4f2ea"/><rect x="215.9" y="73.4" width="8.1" height="7.4" fill="#f4f2ea"/><rect x="346.2" y="73.4" width="9.3" height="7.4" fill="#f4f2ea"/><ellipse cx="285.4" cy="15.0" rx="4.9" ry="4.6" fill="url(#dome)"/><ellipse cx="285.4" cy="139.2" rx="4.9" ry="4.6" fill="url(#dome)"/><ellipse cx="223.0" cy="77.1" rx="3.4" ry="3.3" fill="url(#dome)"/><ellipse cx="347.2" cy="77.1" rx="3.4" ry="3.3" fill="url(#dome)"/>
<rect x="37.2" y="150.2" width="141.0" height="141.2" fill="#a2aac2"/><rect x="39.0" y="152.2" width="138.1" height="137.9" fill="#d0d6ee"/><rect x="40.0" y="153.6" width="136.8" height="136.0" fill="#0b0a0c"/>
<rect x="101.8" y="152.4" width="11.8" height="8.4" fill="#f4f2ea"/><rect x="101.8" y="281.8" width="11.8" height="8.8" fill="#f4f2ea"/><rect x="39.0" y="217.6" width="7.9" height="7.4" fill="#f4f2ea"/><rect x="167.9" y="217.6" width="9.9" height="7.4" fill="#f4f2ea"/><ellipse cx="107.7" cy="159.8" rx="4.9" ry="4.6" fill="url(#dome)"/><ellipse cx="107.7" cy="282.8" rx="4.9" ry="4.6" fill="url(#dome)"/><ellipse cx="45.9" cy="221.3" rx="3.4" ry="3.3" fill="url(#dome)"/><ellipse cx="168.9" cy="221.3" rx="3.4" ry="3.3" fill="url(#dome)"/>
<rect x="214.2" y="150.3" width="141.1" height="141.1" fill="#a2aac2"/><rect x="215.6" y="152.4" width="139.5" height="136.9" fill="#d0d6ee"/><rect x="216.6" y="153.8" width="138.2" height="135.0" fill="#0b0a0c"/>
<rect x="280.0" y="152.6" width="11.8" height="7.7" fill="#f4f2ea"/><rect x="280.0" y="282.1" width="11.8" height="7.7" fill="#f4f2ea"/><rect x="215.6" y="217.5" width="9.1" height="7.4" fill="#f4f2ea"/><rect x="346.5" y="217.5" width="9.3" height="7.4" fill="#f4f2ea"/><ellipse cx="285.9" cy="159.3" rx="4.9" ry="4.6" fill="url(#dome)"/><ellipse cx="285.9" cy="283.1" rx="4.9" ry="4.6" fill="url(#dome)"/><ellipse cx="223.7" cy="221.2" rx="3.4" ry="3.3" fill="url(#dome)"/><ellipse cx="347.5" cy="221.2" rx="3.4" ry="3.3" fill="url(#dome)"/>
<circle cx="107.7" cy="77.2" r="63.4" fill="url(#g1L)"/><circle cx="107.7" cy="77.2" r="63.4" fill="url(#g1T)" mask="url(#m1)"/><circle cx="107.7" cy="77.2" r="63.4" fill="url(#g1R)" mask="url(#m1r)"/><circle cx="108.3" cy="77.9" r="43.0" fill="url(#g1i)"/>
<circle cx="285.1" cy="77.1" r="63.1" fill="url(#g2L)"/><circle cx="285.1" cy="77.1" r="63.1" fill="url(#g2R)" mask="url(#m2)"/><ellipse cx="279.9" cy="76.8" rx="34.4" ry="36" fill="url(#g2i)"/>
<circle cx="107.4" cy="221.3" r="62.5" fill="url(#g3)"/><circle cx="107.4" cy="221.3" r="62.5" fill="url(#g3o)"/><circle cx="102.2" cy="218.5" r="24.8" fill="url(#g3b)"/><circle cx="98.6" cy="217.0" r="16.6" fill="url(#g3c)"/>
<circle cx="102.2" cy="218.5" r="29.6" fill="none" stroke="#d8a0c4" stroke-width="1" opacity="0.5"/><circle cx="102.2" cy="218.5" r="30.8" fill="none" stroke="#7c8ce0" stroke-width="1.1" opacity="0.5"/><circle cx="102.2" cy="218.5" r="32.0" fill="none" stroke="#a0d8c0" stroke-width="0.9" opacity="0.4"/>
<circle cx="285.6" cy="221.2" r="62.9" fill="url(#g4)"/><g clip-path="url(#c4)"><path d="M294,168 A52,52 0 0 1 290,258 A100,100 0 0 0 294,168Z" fill="#66667e" opacity="0.6" filter="url(#bl2)"/><path d="M300.5,175.5 A40.7,40.7 0 0 1 296.4,249 A48.6,48.6 0 0 0 300.5,175.5Z" fill="#121218" opacity="0.9" filter="url(#bl1)"/><path d="M302.5,183 A50.4,50.4 0 0 1 292,249 A85.9,85.9 0 0 0 302.5,183Z" fill="#24242e" opacity="0.78" filter="url(#bl1)"/></g><circle cx="285.6" cy="221.2" r="62.9" fill="url(#g4o)"/>
<circle cx="269.0" cy="211.5" r="25.6" fill="url(#g4b)"/><g clip-path="url(#c4b)"><g filter="url(#bl0)"><rect x="248" y="190" width="42" height="42" fill="url(#g4h)"/><ellipse cx="258" cy="205" rx="5" ry="8" fill="#bca898" opacity="0.7"/><circle cx="284.5" cy="200.5" r="3.6" fill="#5a64c8"/><circle cx="272" cy="196.5" r="2.2" fill="#4a50a8"/><circle cx="266" cy="221" r="1.5" fill="#1c1c48"/><path d="M262,228 q6,-4 10,1 l0,4 l-10,0z" fill="#4a50a8"/></g></g><circle cx="268.4" cy="211.2" r="18.0" fill="url(#g4r)"/>
<circle cx="152.3" cy="43.2" r="0.7" fill="#30304a" opacity="0.5"/><circle cx="150.8" cy="38.4" r="0.5" fill="#30304a" opacity="0.35"/><circle cx="112.2" cy="108" r="0.7" fill="#30304a" opacity="0.55"/><circle cx="105.8" cy="109.3" r="0.6" fill="#30304a" opacity="0.5"/><circle cx="88.2" cy="106.4" r="0.6" fill="#30304a" opacity="0.45"/><circle cx="113.5" cy="103.5" r="0.5" fill="#30304a" opacity="0.35"/><circle cx="266" cy="79" r="0.6" fill="#30304a" opacity="0.35"/><circle cx="272" cy="84" r="0.5" fill="#30304a" opacity="0.3"/><circle cx="284" cy="88" r="0.5" fill="#30304a" opacity="0.3"/><circle cx="278" cy="76" r="0.5" fill="#30304a" opacity="0.25"/><circle cx="290" cy="82" r="0.5" fill="#30304a" opacity="0.3"/><circle cx="318" cy="50" r="0.5" fill="#30304a" opacity="0.4"/><circle cx="324" cy="100" r="0.5" fill="#30304a" opacity="0.4"/><circle cx="95.5" cy="212.5" r="0.7" fill="#30304a" opacity="0.5"/><circle cx="100" cy="226" r="0.5" fill="#30304a" opacity="0.4"/><circle cx="104" cy="207" r="0.5" fill="#30304a" opacity="0.35"/><circle cx="258" cy="203" r="0.6" fill="#30304a" opacity="0.5"/><circle cx="262" cy="214" r="0.5" fill="#30304a" opacity="0.5"/><circle cx="281" cy="216" r="0.5" fill="#30304a" opacity="0.5"/><circle cx="276" cy="206" r="0.5" fill="#30304a" opacity="0.4"/><circle cx="258" cy="236" r="0.5" fill="#30304a" opacity="0.5"/><circle cx="266" cy="239" r="0.5" fill="#30304a" opacity="0.5"/><circle cx="274" cy="240" r="0.5" fill="#30304a" opacity="0.45"/><circle cx="289" cy="195" r="0.5" fill="#30304a" opacity="0.4"/><circle cx="296" cy="230" r="0.5" fill="#30304a" opacity="0.4"/>
<rect x="317.8" y="281.9" width="31.8" height="4.6" fill="#fff"/>
<text class="pl" x="4.4" y="18.4">A</text>
<text class="pl" x="358.2" y="18.4">B</text>
<text class="pl" x="358.8" y="163.7">C</text>
<text class="pl" x="4.6" y="307.6">D</text>
<text class="pl" x="182.2" y="307.6">E</text>
<text class="pl" x="358.8" y="307.6">F</text>
<text class="lab" transform="translate(31.3,75.5) rotate(-90)" text-anchor="middle"><tspan font-style="italic">N</tspan> = 100</text>
<text class="lab" transform="translate(208.2,75.5) rotate(-90)" text-anchor="middle"><tspan font-style="italic">N</tspan> = 200</text>
<text class="lab" transform="translate(31.3,221.0) rotate(-90)" text-anchor="middle"><tspan font-style="italic">N</tspan> = 500</text>
<text class="lab" transform="translate(208.2,221.0) rotate(-90)" text-anchor="middle"><tspan font-style="italic">N</tspan> = 1000</text>
<rect class="ax" x="400.0" y="7.2" width="138.6" height="102.0"/>
<path class="tk" d="M398.4,104.6h1.6"/><text class="t" x="395.6" y="108.5" text-anchor="end">0.00</text><path class="tk" d="M398.4,89.7h1.6"/><text class="t" x="395.6" y="93.7" text-anchor="end">0.25</text><path class="tk" d="M398.4,74.9h1.6"/><text class="t" x="395.6" y="78.8" text-anchor="end">0.50</text><path class="tk" d="M398.4,60.0h1.6"/><text class="t" x="395.6" y="63.9" text-anchor="end">0.75</text><path class="tk" d="M398.4,45.1h1.6"/><text class="t" x="395.6" y="49.1" text-anchor="end">1.00</text><path class="tk" d="M398.4,30.2h1.6"/><text class="t" x="395.6" y="34.2" text-anchor="end">1.25</text><path class="tk" d="M398.4,15.4h1.6"/><text class="t" x="395.6" y="19.3" text-anchor="end">1.50</text>
<path class="tk" d="M406.3,109.2v1.7"/><text class="t" x="406.3" y="123.8" text-anchor="middle">0</text><path class="tk" d="M427.2,109.2v1.7"/><path class="tk" d="M448.1,109.2v1.7"/><text class="t" x="448.1" y="123.8" text-anchor="middle">100</text><path class="tk" d="M469.0,109.2v1.7"/><path class="tk" d="M490.0,109.2v1.7"/><text class="t" x="490.0" y="123.8" text-anchor="middle">200</text><path class="tk" d="M510.9,109.2v1.7"/><path class="tk" d="M531.8,109.2v1.7"/><text class="t" x="531.8" y="123.8" text-anchor="middle">300</text>
<text class="lab" x="469.5" y="139.4" text-anchor="middle">Position (µm)</text>
<text class="lab" transform="translate(368.6,57.5) rotate(-90)" text-anchor="middle">Height (µm)</text>
<path class="ln" stroke="#111" d="M406.1,82.7C407.0,81.0 409.5,75.5 411.4,72.4C413.3,69.3 415.7,66.8 417.5,63.9C419.3,61.0 420.8,58.4 422.4,55.3C424.0,52.2 426.3,47.5 427.3,45.5C428.3,43.5 428.2,45.1 428.6,43.0C429.1,40.9 429.6,36.3 430.0,33.0C430.4,29.7 430.8,25.9 431.2,23.0C431.6,20.1 432.0,17.3 432.4,15.5C432.8,13.7 433.0,12.6 433.4,12.4C433.8,12.2 434.1,13.1 434.5,14.5C434.9,15.9 435.3,17.2 435.9,21.1C436.5,25.1 437.3,30.9 438.3,38.2C439.3,45.5 440.6,56.9 442.0,65.1C443.4,73.2 445.3,81.6 446.9,87.1C448.5,92.6 449.9,95.4 451.7,98.1C453.5,100.8 455.8,101.9 457.9,103.0C459.9,104.1 462.0,104.4 464.0,104.6C466.0,104.8 468.1,104.4 470.0,104.3C471.9,104.2 473.2,104.2 475.3,103.7C477.4,103.2 480.2,102.3 482.7,101.2C485.1,100.1 487.8,99.0 490.0,97.3C492.2,95.5 494.3,93.6 496.1,90.7C497.9,87.8 499.6,83.8 501.0,79.7C502.4,75.6 503.4,71.6 504.6,66.3C505.8,61.0 507.1,54.5 508.3,48.0C509.5,41.5 511.0,32.7 512.0,27.2C513.0,21.7 513.8,17.6 514.4,15.0C515.0,12.4 515.4,11.4 515.9,11.4C516.4,11.4 516.8,12.2 517.4,15.0C518.0,17.8 518.4,22.5 519.3,28.4C520.2,34.3 521.8,43.7 523.0,50.4C524.2,57.1 525.6,64.6 526.6,68.7C527.6,72.8 528.2,72.7 529.1,74.9C530.0,77.2 531.5,81.0 532.0,82.2"/>
<rect class="ax" x="400.0" y="151.6" width="138.6" height="103.0"/>
<path class="tk" d="M398.4,254.6h1.6"/><text class="t" x="395.6" y="258.6" text-anchor="end">0</text><path class="tk" d="M398.4,232.5h1.6"/><text class="t" x="395.6" y="236.5" text-anchor="end">2</text><path class="tk" d="M398.4,210.5h1.6"/><text class="t" x="395.6" y="214.4" text-anchor="end">4</text><path class="tk" d="M398.4,188.4h1.6"/><text class="t" x="395.6" y="192.4" text-anchor="end">6</text><path class="tk" d="M398.4,166.4h1.6"/><text class="t" x="395.6" y="170.3" text-anchor="end">8</text>
<path class="tk" d="M420.4,254.6v1.7"/><text class="t" x="420.4" y="269.2" text-anchor="middle">200</text><path class="tk" d="M448.3,254.6v1.7"/><text class="t" x="448.3" y="269.2" text-anchor="middle">400</text><path class="tk" d="M476.3,254.6v1.7"/><text class="t" x="476.3" y="269.2" text-anchor="middle">600</text><path class="tk" d="M504.2,254.6v1.7"/><text class="t" x="504.2" y="269.2" text-anchor="middle">800</text><path class="tk" d="M532.2,254.6v1.7"/><text class="t" x="532.2" y="269.2" text-anchor="middle">1000</text>
<text class="lab" x="468.3" y="285.0" text-anchor="middle">No. of droplets, <tspan font-style="italic">N</tspan></text>
<text class="lab" transform="translate(368.6,203.0) rotate(-90)" text-anchor="middle">Height (µm)</text>
<path class="ln" stroke="#111" d="M406.4,249.6L420.4,244.7L462.3,241.6L532.2,155.8"/>
<circle cx="406.4" cy="249.6" r="1.3" fill="#111"/><circle cx="420.4" cy="244.7" r="1.3" fill="#111"/><circle cx="462.3" cy="241.6" r="1.3" fill="#111"/><circle cx="532.2" cy="155.8" r="1.3" fill="#111"/>
<rect class="ax" x="38.7" y="301.1" width="138.3" height="101.9"/>
<path class="tk" d="M37.1,394.6h1.6"/><text class="t" x="34.3" y="398.6" text-anchor="end">10</text><path class="tk" d="M37.1,377.9h1.6"/><text class="t" x="34.3" y="381.8" text-anchor="end">20</text><path class="tk" d="M37.1,361.1h1.6"/><text class="t" x="34.3" y="365.1" text-anchor="end">30</text><path class="tk" d="M37.1,344.4h1.6"/><text class="t" x="34.3" y="348.3" text-anchor="end">40</text><path class="tk" d="M37.1,327.6h1.6"/><text class="t" x="34.3" y="331.6" text-anchor="end">50</text><path class="tk" d="M37.1,310.9h1.6"/><text class="t" x="34.3" y="314.9" text-anchor="end">60</text>
<path class="tk" d="M58.3,403.0v1.7"/><text class="t" x="58.3" y="417.6" text-anchor="middle">200</text><path class="tk" d="M86.4,403.0v1.7"/><text class="t" x="86.4" y="417.6" text-anchor="middle">400</text><path class="tk" d="M114.5,403.0v1.7"/><text class="t" x="114.5" y="417.6" text-anchor="middle">600</text><path class="tk" d="M142.6,403.0v1.7"/><text class="t" x="142.6" y="417.6" text-anchor="middle">800</text><path class="tk" d="M170.7,403.0v1.7"/><text class="t" x="170.7" y="417.6" text-anchor="middle">1000</text>
<text class="lab" x="108" y="433.3" text-anchor="middle">No. of droplets, <tspan font-style="italic">N</tspan></text>
<text class="lab" transform="translate(16.0,352.0) rotate(-90)" text-anchor="middle">Intensity (mV)</text>
<path class="ln" stroke="#3cb44b" d="M44.2,397.6L58.3,384.1L100.5,344.2L170.7,350.4"/><circle cx="44.2" cy="397.6" r="1.3" fill="#3cb44b"/><circle cx="58.3" cy="384.1" r="1.3" fill="#3cb44b"/><circle cx="100.5" cy="344.2" r="1.3" fill="#3cb44b"/><circle cx="170.7" cy="350.4" r="1.3" fill="#3cb44b"/><path class="ln" stroke="#1f1fbf" d="M44.2,397.6L58.3,383.7L100.5,342.7L170.7,325.8"/><circle cx="44.2" cy="397.6" r="1.3" fill="#1f1fbf"/><circle cx="58.3" cy="383.7" r="1.3" fill="#1f1fbf"/><circle cx="100.5" cy="342.7" r="1.3" fill="#1f1fbf"/><circle cx="170.7" cy="325.8" r="1.3" fill="#1f1fbf"/><path class="ln" stroke="#c8202a" d="M44.2,397.6L58.3,383.2L100.5,338.9L170.7,312.7"/><circle cx="44.2" cy="397.6" r="1.3" fill="#c8202a"/><circle cx="58.3" cy="383.2" r="1.3" fill="#c8202a"/><circle cx="100.5" cy="338.9" r="1.3" fill="#c8202a"/><circle cx="170.7" cy="312.7" r="1.3" fill="#c8202a"/><path class="ln" stroke="#111" d="M44.2,397.6L58.3,382.5L100.5,338.2L170.7,305.5"/><circle cx="44.2" cy="397.6" r="1.3" fill="#111"/><circle cx="58.3" cy="382.5" r="1.3" fill="#111"/><circle cx="100.5" cy="338.2" r="1.3" fill="#111"/><circle cx="170.7" cy="305.5" r="1.3" fill="#111"/>
<rect class="ax" x="215.6" y="301.1" width="138.2" height="101.9"/>
<path class="tk" d="M214.0,399.8h1.6"/><text class="t" x="211.2" y="403.8" text-anchor="end">0.0</text><path class="tk" d="M214.0,385.2h1.6"/><text class="t" x="211.2" y="389.1" text-anchor="end">0.2</text><path class="tk" d="M214.0,370.6h1.6"/><text class="t" x="211.2" y="374.6" text-anchor="end">0.4</text><path class="tk" d="M214.0,356.0h1.6"/><text class="t" x="211.2" y="359.9" text-anchor="end">0.6</text><path class="tk" d="M214.0,341.4h1.6"/><text class="t" x="211.2" y="345.3" text-anchor="end">0.8</text><path class="tk" d="M214.0,326.8h1.6"/><text class="t" x="211.2" y="330.8" text-anchor="end">1.0</text><path class="tk" d="M214.0,312.2h1.6"/><text class="t" x="211.2" y="316.1" text-anchor="end">1.2</text>
<path class="tk" d="M220.5,403.0v1.7"/><text class="t" x="220.5" y="417.6" text-anchor="middle">240</text><path class="tk" d="M236.3,403.0v1.7"/><path class="tk" d="M252.1,403.0v1.7"/><text class="t" x="252.1" y="417.6" text-anchor="middle">260</text><path class="tk" d="M267.9,403.0v1.7"/><path class="tk" d="M283.7,403.0v1.7"/><text class="t" x="283.7" y="417.6" text-anchor="middle">280</text><path class="tk" d="M299.5,403.0v1.7"/><path class="tk" d="M315.3,403.0v1.7"/><text class="t" x="315.3" y="417.6" text-anchor="middle">300</text><path class="tk" d="M331.1,403.0v1.7"/><path class="tk" d="M346.9,403.0v1.7"/><text class="t" x="346.9" y="417.6" text-anchor="middle">320</text>
<text class="lab" x="284.7" y="433.3" text-anchor="middle">Wavelength (nm)</text>
<text class="lab" transform="translate(191.6,352.0) rotate(-90)" text-anchor="middle">Abs.</text>
<path class="ln" stroke="#c8323c" d="M221.9,381.8C223.2,381.1 227.1,379.0 229.7,377.8C232.3,376.6 235.0,375.3 237.6,374.4C240.2,373.4 242.6,372.7 245.4,372.1C248.2,371.5 251.6,371.0 254.6,371.0C257.6,371.0 260.4,371.3 263.7,372.1C267.0,372.9 270.7,374.1 274.2,375.7C277.7,377.3 281.2,379.6 284.7,381.8C288.2,384.0 292.1,387.2 295.2,389.1C298.2,391.1 300.4,392.3 303.0,393.5C305.6,394.7 308.3,395.7 310.9,396.4C313.5,397.1 315.2,397.3 318.7,397.7C322.2,398.1 327.0,398.3 331.8,398.5C336.6,398.7 344.9,398.8 347.5,398.8"/>
<path class="ln" stroke="#2a22c8" d="M221.9,342.5C222.8,340.3 225.2,333.5 227.1,329.4C229.0,325.2 231.4,320.9 233.6,317.6C235.8,314.3 238.2,311.7 240.2,309.8C242.2,307.9 243.7,307.2 245.4,306.4C247.1,305.6 248.8,305.2 250.6,305.2C252.3,305.2 254.2,305.6 255.9,306.4C257.7,307.2 259.4,308.4 261.1,309.8C262.9,311.2 264.2,312.4 266.4,315.0C268.6,317.6 271.6,321.6 274.2,325.5C276.8,329.4 279.5,333.8 282.1,338.6C284.7,343.4 287.3,348.9 289.9,354.3C292.5,359.8 295.4,366.5 297.8,371.3C300.2,376.1 302.1,380.1 304.3,383.1C306.5,386.2 308.5,387.9 310.9,389.6C313.3,391.3 315.6,392.4 318.7,393.3C321.8,394.2 324.4,394.5 329.2,394.9C334.0,395.3 344.4,395.7 347.5,395.9"/>
<rect class="ax" x="403.6" y="301.1" width="138.1" height="101.9"/>
<path class="tk" d="M402.0,386.7h1.6"/><text class="t" x="399.2" y="390.6" text-anchor="end">−5</text><path class="tk" d="M402.0,365.5h1.6"/><text class="t" x="399.2" y="369.4" text-anchor="end">0</text><path class="tk" d="M402.0,344.3h1.6"/><text class="t" x="399.2" y="348.2" text-anchor="end">5</text><path class="tk" d="M402.0,323.1h1.6"/><text class="t" x="399.2" y="327.1" text-anchor="end">10</text><path class="tk" d="M402.0,301.9h1.6"/><text class="t" x="399.2" y="305.8" text-anchor="end">15</text>
<path class="tk" d="M408.3,403.0v1.7"/><text class="t" x="408.3" y="417.6" text-anchor="middle">240</text><path class="tk" d="M424.1,403.0v1.7"/><path class="tk" d="M440.0,403.0v1.7"/><text class="t" x="440.0" y="417.6" text-anchor="middle">260</text><path class="tk" d="M455.8,403.0v1.7"/><path class="tk" d="M471.7,403.0v1.7"/><text class="t" x="471.7" y="417.6" text-anchor="middle">280</text><path class="tk" d="M487.5,403.0v1.7"/><path class="tk" d="M503.3,403.0v1.7"/><text class="t" x="503.3" y="417.6" text-anchor="middle">300</text><path class="tk" d="M519.2,403.0v1.7"/><path class="tk" d="M535.0,403.0v1.7"/><text class="t" x="535.0" y="417.6" text-anchor="middle">320</text>
<text class="lab" x="471.5" y="433.3" text-anchor="middle">Wavelength (nm)</text>
<text class="lab" transform="translate(368.4,352.3) rotate(-90)" text-anchor="middle">Ellipticity</text>
<text class="lab" transform="translate(382.0,352.0) rotate(-90)" text-anchor="middle">(10<tspan font-size="7.5" dy="-3.5">−3</tspan><tspan dy="3.5"> deg)</tspan></text>
<path class="ln" stroke="#c8323c" d="M409.2,398.0C409.6,397.2 410.7,395.1 411.8,393.5C412.9,391.9 414.4,390.5 415.7,388.3C417.0,386.1 418.3,383.8 419.6,380.5C420.9,377.2 422.3,372.3 423.6,368.7C424.9,365.1 426.4,361.0 427.5,358.7C428.6,356.4 429.0,356.3 430.1,355.1C431.2,353.9 432.9,353.6 434.0,351.7C435.1,349.8 435.5,346.9 436.6,343.8C437.7,340.7 439.3,336.8 440.6,333.3C441.9,329.8 443.4,325.3 444.5,322.9C445.6,320.5 446.0,320.5 447.1,318.9C448.2,317.3 449.9,314.3 451.0,313.2C452.1,312.1 452.8,313.0 453.7,312.4C454.6,311.8 455.4,310.6 456.3,309.8C457.2,309.1 458.0,308.1 458.9,307.9C459.8,307.7 460.5,308.9 461.5,308.5C462.5,308.1 463.8,305.6 464.9,305.3C466.0,305.0 466.9,306.1 468.1,306.6C469.3,307.1 470.7,307.3 472.0,308.5C473.3,309.7 474.6,311.3 475.9,313.7C477.2,316.1 478.5,319.6 479.8,322.9C481.1,326.2 482.5,330.2 483.8,333.3C485.1,336.4 486.4,337.9 487.7,341.2C489.0,344.5 490.3,348.6 491.6,353.0C492.9,357.4 494.3,363.6 495.5,367.4C496.7,371.2 497.9,374.1 499.0,376.0C500.1,377.9 500.7,378.0 502.1,378.6C503.5,379.2 505.3,378.9 507.3,379.7C509.3,380.4 511.9,383.2 513.9,383.1C515.9,383.0 517.4,380.1 519.1,379.2C520.8,378.3 522.8,377.7 524.3,377.8C525.8,377.9 527.2,379.8 528.3,379.9C529.4,380.0 530.0,379.2 530.9,378.6C531.8,378.0 532.8,376.4 533.5,376.0C534.2,375.6 534.8,376.4 535.1,376.5"/>
<path class="ln" stroke="#2a22c8" d="M409.2,386.5C409.9,387.4 411.6,389.9 413.1,391.7C414.6,393.4 416.7,395.9 418.3,397.0C419.9,398.1 421.5,398.6 423.0,398.5C424.5,398.4 426.1,397.4 427.5,396.4C428.9,395.3 430.1,394.2 431.4,392.2C432.7,390.2 434.0,387.7 435.3,384.4C436.6,381.1 438.0,377.0 439.3,372.6C440.6,368.2 441.9,363.0 443.2,358.2C444.5,353.4 445.8,348.4 447.1,343.8C448.4,339.2 449.7,334.6 451.0,330.7C452.3,326.8 453.7,323.4 455.0,320.3C456.3,317.2 457.6,314.5 458.9,312.4C460.2,310.3 461.5,308.9 462.8,307.9C464.1,306.9 465.5,306.5 466.8,306.4C468.1,306.3 469.4,306.6 470.7,307.4C472.0,308.2 473.3,309.5 474.6,311.1C475.9,312.7 477.0,314.4 478.5,316.8C480.0,319.2 482.1,322.6 483.8,325.5C485.6,328.4 487.3,331.5 489.0,334.1C490.7,336.7 492.4,339.2 494.2,341.2C495.9,343.2 497.8,345.0 499.5,346.2C501.2,347.4 502.5,348.0 504.7,348.5C506.9,349.0 509.6,349.2 512.6,349.3C515.6,349.4 519.3,349.1 523.0,349.0C526.7,348.9 532.8,348.6 534.8,348.5"/>
</svg></body></html>
